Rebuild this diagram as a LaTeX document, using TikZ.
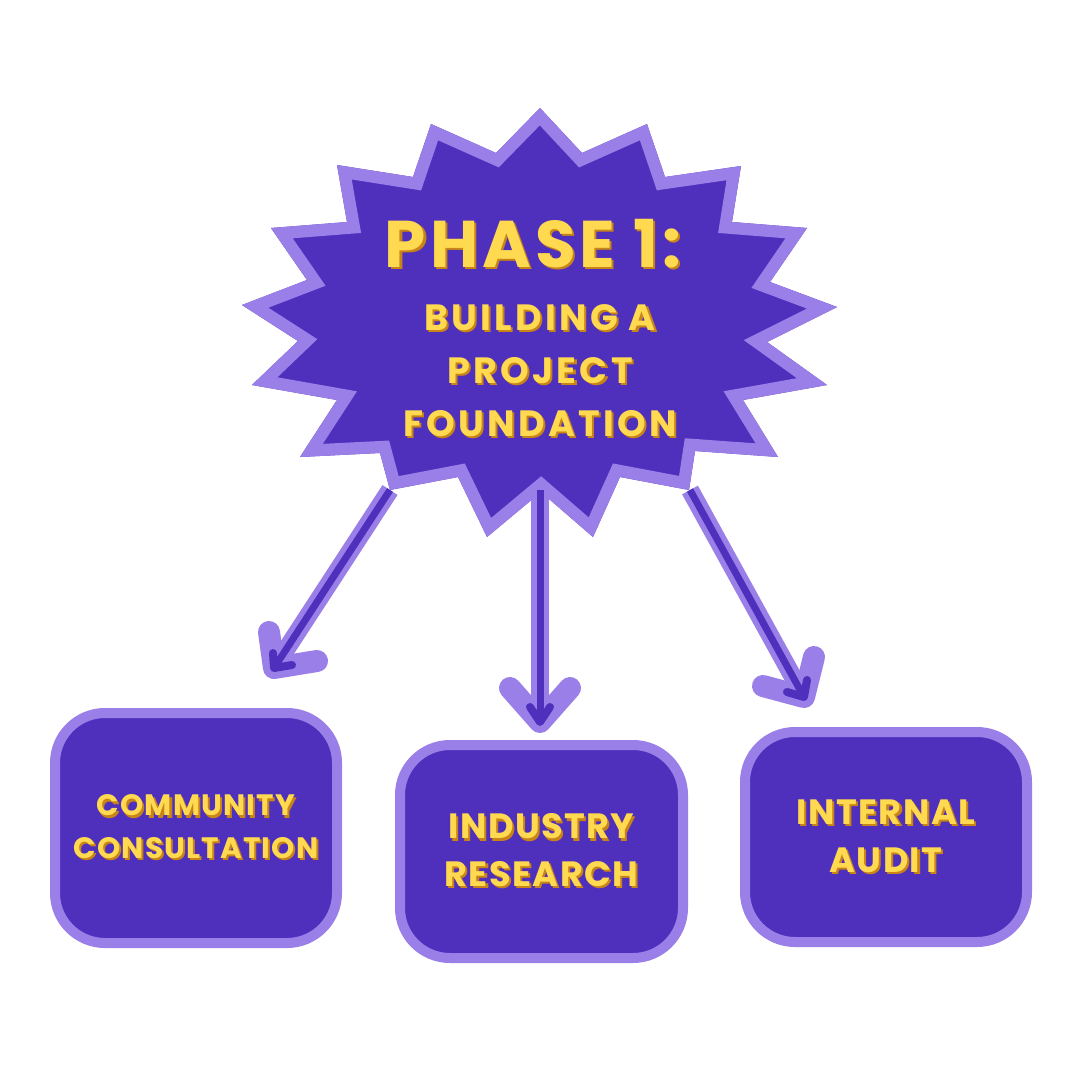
\documentclass[tikz,border=0pt]{standalone}
\usepackage{fontspec}
\setmainfont{Poppins}
\usepackage{tikz}
\usetikzlibrary{positioning,calc}
\definecolor{burstfill}{HTML}{4F30BD}
\definecolor{rimlight}{HTML}{9B7FE8}
\definecolor{gold}{HTML}{FFD94F}
\definecolor{goldshade}{HTML}{C98418}
\newlength{\pxu}\setlength{\pxu}{0.25mm}
\newcommand{\dropsh}[1]{\leavevmode\rlap{\color{goldshade}\hspace{1.5pt}\raisebox{-1.5pt}{#1}}#1}
\newcommand{\burstoutline}{(540,108) -- (582,153) -- (647,124) -- (665,177) -- (741,166) -- (732,222)
  -- (807,228) -- (770,282) -- (837,307) -- (767,342) -- (827,385) -- (743,400) -- (778,457)
  -- (695,451) -- (689,490) -- (620,477) -- (593,537) -- (541,492) -- (487,537) -- (458,477)
  -- (390,490) -- (380,453) -- (300,457) -- (337,400) -- (252,385) -- (298,341) -- (242,305)
  -- (307,280) -- (271,228) -- (347,222) -- (337,165) -- (413,177) -- (431,124) -- (496,153) -- cycle}
\tikzset{
  ring/.style    ={rectangle, draw=rimlight, fill=burstfill, line width=10\pxu,
                   rounded corners=50\pxu, minimum width=282\pxu, inner sep=0pt},
  boxtxt/.style  ={text=gold, align=center,
                   font=\bfseries\fontsize{25}{34}\selectfont\addfontfeature{LetterSpace=4}},
  titletxt/.style={text=gold, align=center,
                   font=\bfseries\fontsize{26}{37.7}\selectfont\addfontfeature{LetterSpace=9}},
  shaft/.style   ={line width=18\pxu, rimlight},
  core/.style    ={line width=7\pxu, burstfill},
  barb/.style    ={line width=22\pxu, rimlight, line cap=round, line join=round},
  barbcore/.style={line width=8\pxu, burstfill, line cap=round, line join=round},
}
\begin{document}
\begin{tikzpicture}[x=1\pxu, y=-1\pxu]
\fill[white] (0,0) rectangle (1080,1080);
\useasboundingbox (0,0) rectangle (1080,1080);
% starburst
\fill[burstfill] \burstoutline;
\begin{scope}
  \clip \burstoutline;
  \draw[rimlight, line width=24\pxu, miter limit=25] \burstoutline;
\end{scope}
\node[text=gold, font=\bfseries\fontsize{47}{50}\selectfont\addfontfeature{LetterSpace=6}] (phase) at (533,245) {\dropsh{PHASE 1:}};
\node[titletxt] (found) at (540,372) {\dropsh{BUILDING A}\\\dropsh{PROJECT}\\\dropsh{FOUNDATION}};
% boxes
\node[ring, boxtxt, minimum height=230\pxu, font=\bfseries\fontsize{21}{30.5}\selectfont\addfontfeature{LetterSpace=4}]
  (consult) at (196,828) {\dropsh{COMMUNITY}\\\dropsh{CONSULTATION}};
\node[ring, boxtxt, minimum width=283\pxu, minimum height=213\pxu] (research) at (541.5,851.5) {\dropsh{INDUSTRY}\\\dropsh{RESEARCH}};
\node[ring, boxtxt, minimum height=210\pxu] (audit) at (886,837) {\dropsh{INTERNAL}\\\dropsh{AUDIT}};
% arrows
\coordinate (l0) at (390,490);
\coordinate (l1) at (274,668);
\coordinate (c0) at (540,490);
\coordinate (c1) at (540,722);
\coordinate (r0) at (690,490);
\coordinate (r1) at (804,697);
\draw[shaft] (l0) -- (l1);
\draw[shaft] (c0) -- (c1);
\draw[shaft] (r0) -- (r1);
\draw[barb] ($(l1)+(-5,-36)$) -- (l1) -- ($(l1)+(43,-7)$);
\draw[barb] ($(c1)+(-30,-34)$) -- (c1) -- ($(c1)+(30,-34)$);
\draw[barb] ($(r1)+(10,-40)$) -- (r1) -- ($(r1)+(-41,-11)$);
\draw[core] (l0) -- (l1);
\draw[core] (c0) -- (c1);
\draw[core] (r0) -- (r1);
\draw[barbcore] ($(l1)+(-1,-15)$) -- (l1) -- ($(l1)+(18,-3)$);
\draw[barbcore] ($(c1)+(-10,-15)$) -- (c1) -- ($(c1)+(10,-15)$);
\draw[barbcore] ($(r1)+(3,-17)$) -- (r1) -- ($(r1)+(-17,-5)$);
\end{tikzpicture}
\end{document}
